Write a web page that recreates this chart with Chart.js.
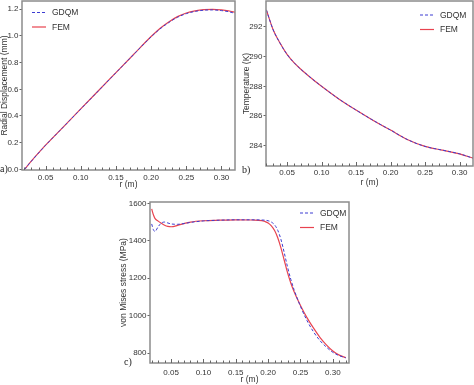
<!DOCTYPE html>
<html>
<head>
<meta charset="utf-8">
<script src="https://cdn.jsdelivr.net/npm/chart.js@4.4.0/dist/chart.umd.min.js"></script>
<style>
  body { margin: 0; background: #fff; width: 474px; height: 385px; position: relative; overflow: hidden; }
  .panel { position: absolute; }
  .panel canvas { display: block; }
</style>
</head>
<body>
<div class="panel" style="left:0;top:0"><canvas id="chartA" width="237" height="190"></canvas></div>
<div class="panel" style="left:237px;top:0"><canvas id="chartB" width="237" height="190"></canvas></div>
<div class="panel" style="left:100px;top:190px"><canvas id="chartC" width="280" height="195"></canvas></div>
<script>
// a) radial displacement (mm)
const rDisp = [0.02, 0.03, 0.04, 0.05, 0.075, 0.10, 0.125, 0.15, 0.175, 0.20, 0.2125, 0.225, 0.2375, 0.25, 0.2625, 0.275, 0.2875, 0.30, 0.31, 0.32];
const dispGDQM = [0, 0.062, 0.122, 0.18, 0.316, 0.452, 0.588, 0.724, 0.86, 0.993, 1.052, 1.1, 1.14, 1.167, 1.184, 1.193, 1.195, 1.19, 1.182, 1.168];
const dispFEM = [0, 0.063, 0.123, 0.181, 0.317, 0.453, 0.589, 0.725, 0.861, 0.996, 1.056, 1.105, 1.145, 1.172, 1.188, 1.197, 1.199, 1.195, 1.188, 1.177];

// b) temperature (K)
const rTemp = [0.02, 0.03, 0.04, 0.05, 0.06, 0.07, 0.08, 0.10, 0.125, 0.15, 0.175, 0.20, 0.225, 0.25, 0.275, 0.30, 0.32];
const tempGDQM = [293.15, 291.8, 290.9, 290.15, 289.6, 289.15, 288.75, 288.0, 287.15, 286.4, 285.7, 285.05, 284.4, 283.95, 283.7, 283.45, 283.15];
const tempFEM = [293.15, 291.8, 290.9, 290.15, 289.6, 289.15, 288.75, 288.0, 287.15, 286.4, 285.7, 285.05, 284.4, 283.95, 283.7, 283.45, 283.15];

// c) von Mises stress (MPa)
const rStress = [0.02, 0.0225, 0.025, 0.03, 0.035, 0.04, 0.045, 0.05, 0.06, 0.07, 0.08, 0.10, 0.125, 0.15, 0.175, 0.19, 0.195, 0.20, 0.205, 0.21, 0.215, 0.22, 0.225, 0.23, 0.235, 0.24, 0.25, 0.26, 0.27, 0.28, 0.29, 0.30, 0.31, 0.32];
const stressGDQM = [1490, 1460, 1450, 1475, 1495, 1500, 1495, 1490, 1488, 1492, 1498, 1506, 1510, 1512, 1512, 1511, 1510, 1507, 1500, 1485, 1455, 1405, 1335, 1260, 1195, 1140, 1050, 975, 915, 868, 833, 805, 787, 776];
const stressFEM = [1570, 1540, 1520, 1505, 1493, 1483, 1477, 1475, 1482, 1492, 1500, 1507, 1510, 1512, 1511, 1508, 1503, 1495, 1480, 1455, 1415, 1360, 1295, 1230, 1175, 1130, 1055, 990, 935, 885, 845, 812, 790, 777];

const rTicks = [0.05, 0.10, 0.15, 0.20, 0.25, 0.30];
const dispTicks = [0, 0.2, 0.4, 0.6, 0.8, 1.0, 1.2];
const tempTicks = [284, 286, 288, 290, 292];
const stressTicks = [800, 1000, 1200, 1400, 1600];
const seriesNames = ['GDQM', 'FEM'];

const blue = '#3c3cd2';
const red = '#e8434f';
const textColor = '#333';

// frame, inward x ticks, legend and the panel letter
const panelDeco = {
  id: 'panelDeco',
  afterDraw(chart, args, o) {
    const ctx = chart.ctx, a = chart.chartArea, xs = chart.scales.x;
    ctx.save();
    ctx.strokeStyle = '#8c8c8c';
    ctx.lineWidth = 1.5;
    ctx.strokeRect(a.left, a.top, a.right - a.left, a.bottom - a.top);

    ctx.strokeStyle = '#666';
    ctx.lineWidth = 1;
    for (let v = Math.ceil(xs.min * 100); v <= Math.floor(xs.max * 100); v++) {
      const px = Math.round(xs.getPixelForValue(v / 100)) + 0.5;
      const len = v % 5 === 0 ? 4 : 2.5;
      ctx.beginPath();
      ctx.moveTo(px, a.bottom);
      ctx.lineTo(px, a.bottom - len);
      ctx.stroke();
    }

    ctx.font = '8.5px "Liberation Sans", Arial, sans-serif';
    ctx.textBaseline = 'middle';
    ctx.textAlign = 'left';
    chart.data.datasets.forEach((ds, i) => {
      const y = o.legendY + i * 14.5;
      ctx.strokeStyle = ds.borderColor;
      ctx.lineWidth = ds.borderWidth;
      ctx.setLineDash(ds.borderDash || []);
      ctx.beginPath();
      ctx.moveTo(o.legendX, y);
      ctx.lineTo(o.legendX + 14, y);
      ctx.stroke();
      ctx.setLineDash([]);
      ctx.fillStyle = textColor;
      ctx.fillText(ds.label, o.legendX + 20, y + 0.5);
    });

    ctx.font = '10px "Liberation Serif", "DejaVu Serif", serif';
    ctx.fillStyle = '#222';
    ctx.fillText(o.letter, o.letterX, o.letterY);
    ctx.restore();
  }
};

function makePanel(id, p) {
  const ctx = document.getElementById(id).getContext('2d');
  return new Chart(ctx, {
    type: 'line',
    data: {
      datasets: [{
        label: seriesNames[0],
        data: p.r.map((r, i) => ({ x: r, y: p.gdqm[i] })),
        borderColor: blue,
        borderWidth: 1,
        borderDash: [3, 2],
        pointRadius: 0,
        cubicInterpolationMode: 'monotone',
        fill: false
      }, {
        label: seriesNames[1],
        data: p.r.map((r, i) => ({ x: r, y: p.fem[i] })),
        borderColor: red,
        borderWidth: 1.2,
        pointRadius: 0,
        cubicInterpolationMode: 'monotone',
        fill: false
      }]
    },
    options: {
      responsive: false,
      animation: false,
      layout: { padding: p.padding },
      plugins: {
        legend: { display: false },
        tooltip: { enabled: false },
        panelDeco: p.deco
      },
      scales: {
        x: {
          type: 'linear',
          min: p.xMin,
          max: p.xMax,
          afterBuildTicks: (s) => { s.ticks = rTicks.map(v => ({ value: v })); },
          afterFit: (s) => { s.height = p.xHeight; s.paddingLeft = 0; s.paddingRight = 0; },
          grid: { display: false, drawTicks: false },
          border: { display: false },
          ticks: {
            padding: p.xTickPad,
            maxRotation: 0,
            color: textColor,
            font: { family: '"Liberation Sans", Arial, sans-serif', size: 8 },
            callback: (v) => v.toFixed(2)
          },
          title: {
            display: true,
            text: 'r (m)',
            color: textColor,
            padding: { top: 0, bottom: p.xTitlePad },
            font: { family: '"Liberation Sans", Arial, sans-serif', size: 8.5 }
          }
        },
        y: {
          min: p.yMin,
          max: p.yMax,
          afterBuildTicks: (s) => { s.ticks = p.yTicks.map(v => ({ value: v })); },
          afterFit: (s) => { s.width = p.yWidth; s.paddingTop = 0; s.paddingBottom = 0; },
          grid: { drawOnChartArea: false, tickLength: 2.5, color: '#666' },
          border: { display: false },
          ticks: {
            padding: 1,
            color: textColor,
            font: { family: '"Liberation Sans", Arial, sans-serif', size: 8 },
            callback: (v) => v.toFixed(p.yDigits)
          },
          title: {
            display: true,
            text: p.yTitle,
            color: textColor,
            padding: { top: p.yTitlePad, bottom: 0 },
            font: { family: '"Liberation Sans", Arial, sans-serif', size: 8.5 }
          }
        }
      }
    },
    plugins: [panelDeco]
  });
}

document.addEventListener('DOMContentLoaded', function() {
  makePanel('chartA', {
    r: rDisp, gdqm: dispGDQM, fem: dispFEM,
    xMin: 0.0165, xMax: 0.3192, yMin: -0.005, yMax: 1.262,
    yTicks: dispTicks, yDigits: 1, yTitle: 'Radial Displacement (mm)',
    padding: { top: 1, right: 2, left: 0, bottom: 0 },
    yWidth: 22, xHeight: 20, xTickPad: 3, xTitlePad: 0, yTitlePad: 0,
    deco: { legendX: 32, legendY: 12.5, letter: 'a)', letterX: 0, letterY: 169 }
  });

  makePanel('chartB', {
    r: rTemp, gdqm: tempGDQM, fem: tempFEM,
    xMin: 0.0195, xMax: 0.3195, yMin: 282.63, yMax: 293.75,
    yTicks: tempTicks, yDigits: 0, yTitle: 'Temperature (K)',
    padding: { top: 1, right: 1, left: 0, bottom: 0 },
    yWidth: 29, xHeight: 24, xTickPad: 2, xTitlePad: 2, yTitlePad: 5,
    deco: { legendX: 183, legendY: 15, letter: 'b)', letterX: 5, letterY: 170.5 }
  });

  makePanel('chartC', {
    r: rStress, gdqm: stressGDQM, fem: stressFEM,
    xMin: 0.0174, xMax: 0.325, yMin: 748, yMax: 1607,
    yTicks: stressTicks, yDigits: 0, yTitle: 'von Mises stress (MPa)',
    padding: { top: 12, right: 31, left: 0, bottom: 0 },
    yWidth: 50, xHeight: 22, xTickPad: 5, xTitlePad: 0, yTitlePad: 19,
    deco: { legendX: 200, legendY: 23, letter: 'c)', letterX: 24, letterY: 172 }
  });
});
</script>
</body>
</html>
